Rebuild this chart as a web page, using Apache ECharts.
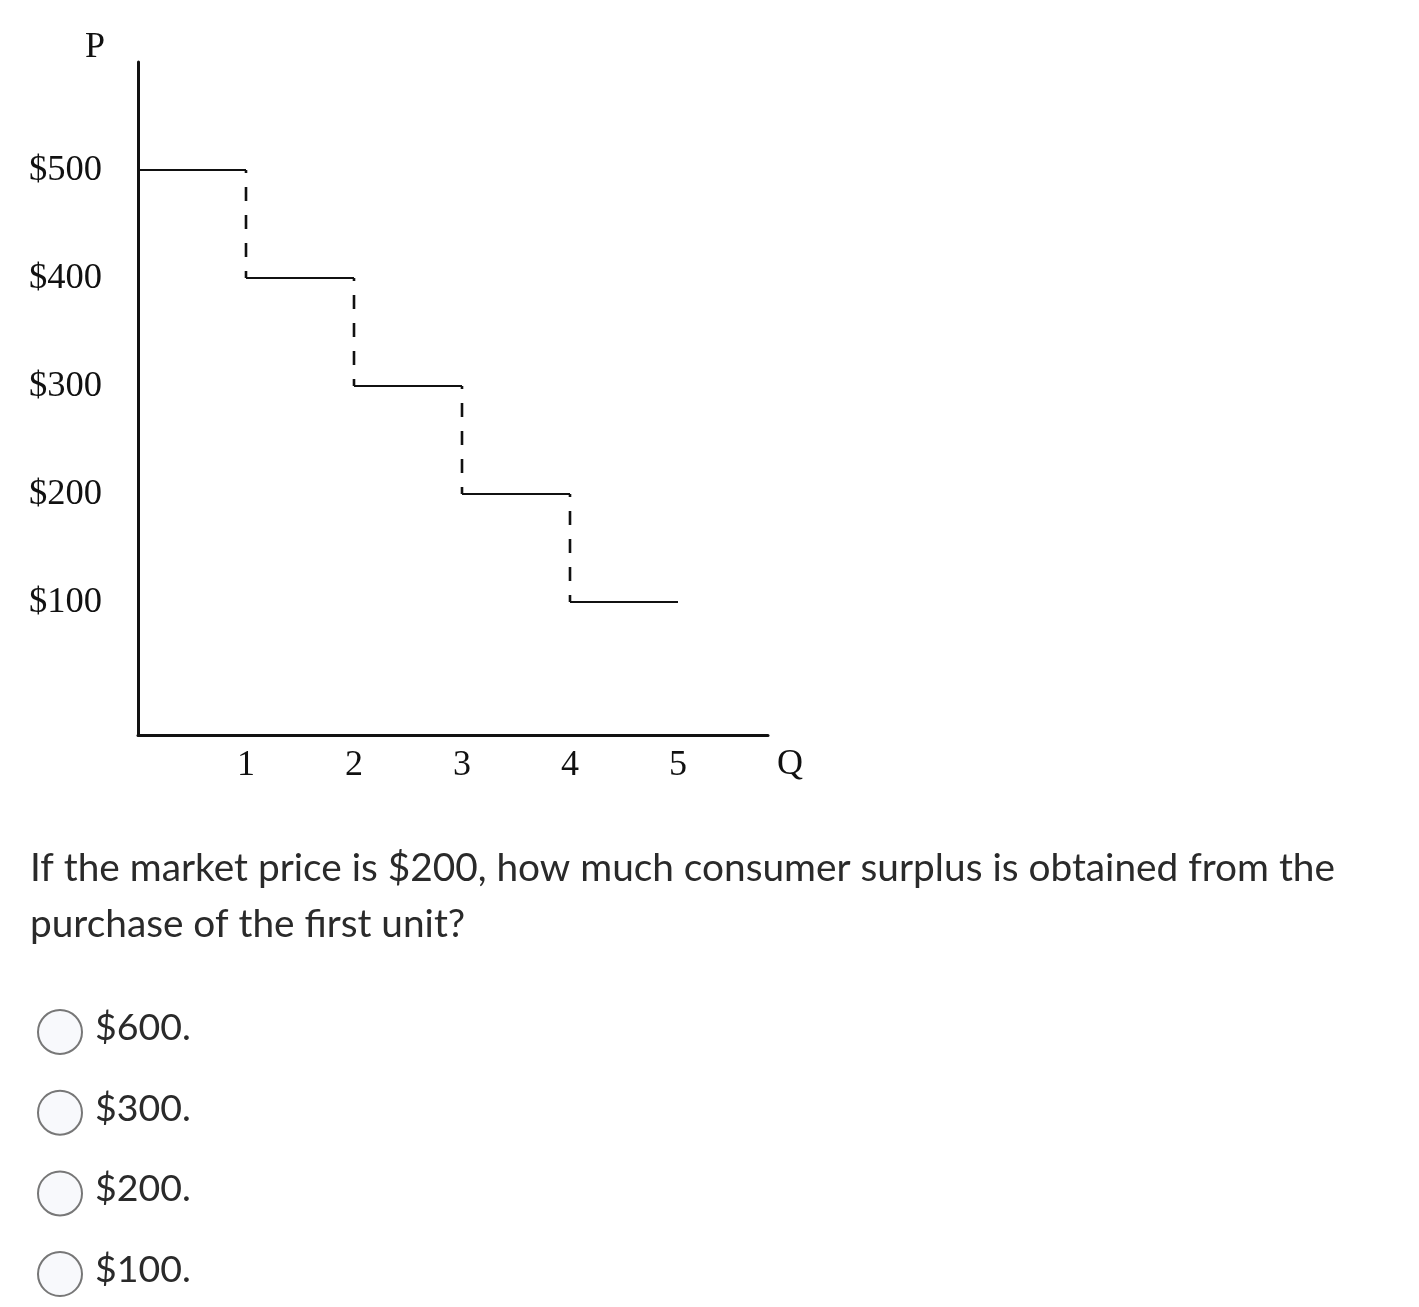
<!DOCTYPE html>
<html>
<head>
<meta charset="utf-8">
<script src="https://cdn.jsdelivr.net/npm/echarts@6/dist/echarts.min.js"></script>
<style>
html,body{margin:0;padding:0;background:#fff;}
#chart{width:1419px;height:1307px;}
</style>
</head>
<body>
<div id="chart"></div>
<script>
// Data
const quantities = [1, 2, 3, 4, 5];
const prices = [500, 400, 300, 200, 100];
const priceTicks = [100, 200, 300, 400, 500];
const qTicks = [1, 2, 3, 4, 5];
const questionLines = [
  'If the market price is $200, how much consumer surplus is obtained from the',
  'purchase of the first unit?'
];
const answerOptions = ['$600.', '$300.', '$200.', '$100.'];

const ink = '#111';
const textInk = '#2a2a2a';
const serif = '"Liberation Serif", "Times New Roman", serif';
const series = [];
// horizontal solid steps
for (let i = 0; i < quantities.length; i++) {
  const x0 = i === 0 ? 0 : quantities[i - 1];
  series.push({
    type: 'line', symbol: 'none', silent: true,
    data: [[x0, prices[i]], [quantities[i], prices[i]]],
    lineStyle: { color: ink, width: 2 }
  });
}
// vertical dashed drops
for (let i = 0; i < quantities.length - 1; i++) {
  series.push({
    type: 'line', symbol: 'none', silent: true,
    data: [[quantities[i], prices[i]], [quantities[i], prices[i + 1]]],
    lineStyle: { color: ink, width: 2.6, type: [14, 14], dashOffset: 11 }
  });
}

const graphics = [
  { type: 'text', x: 95, y: 48, style: { text: 'P', font: '36px ' + serif, fill: ink, align: 'center', verticalAlign: 'middle' } },
  { type: 'text', x: 790, y: 765, style: { text: 'Q', font: '36px ' + serif, fill: ink, align: 'center', verticalAlign: 'middle' } }
];
questionLines.forEach((t, i) => {
  graphics.push({ type: 'text', x: 30, y: 868 + i * 56,
    style: { text: t, font: '38.8px Lato', fill: textInk, verticalAlign: 'middle' } });
});
answerOptions.forEach((t, i) => {
  const cy = 1028 + i * 80.7;
  graphics.push({ type: 'circle', shape: { cx: 60, cy: cy + 4, r: 22 },
    style: { fill: '#f8f9fc', stroke: '#777', lineWidth: 2 } });
  graphics.push({ type: 'text', x: 95, y: cy,
    style: { text: t, font: '37.5px Lato', fill: textInk, verticalAlign: 'middle' } });
});

const chart = echarts.init(document.getElementById('chart'));
chart.setOption({
  animation: false,
  grid: { left: 138, top: 62, width: 630, height: 673, containLabel: false },
  xAxis: {
    type: 'value', min: 0, max: 630 / 108,
    axisLine: { show: true, onZero: false, lineStyle: { color: ink, width: 3 } },
    axisTick: { show: false },
    splitLine: { show: false },
    axisLabel: { customValues: qTicks, margin: 13, color: ink,
      fontFamily: serif, fontSize: 36 }
  },
  yAxis: {
    type: 'value', min: -25 / 1.08, max: 600,
    axisLine: { show: true, onZero: false, lineStyle: { color: ink, width: 3 } },
    axisTick: { show: false },
    splitLine: { show: false },
    axisLabel: { customValues: priceTicks, margin: 36, color: ink,
      fontFamily: serif, fontSize: 36.5, padding: [6, 0, 0, 0],
      formatter: v => '$' + v }
  },
  series: series,
  graphic: graphics
});
</script>
</body>
</html>
